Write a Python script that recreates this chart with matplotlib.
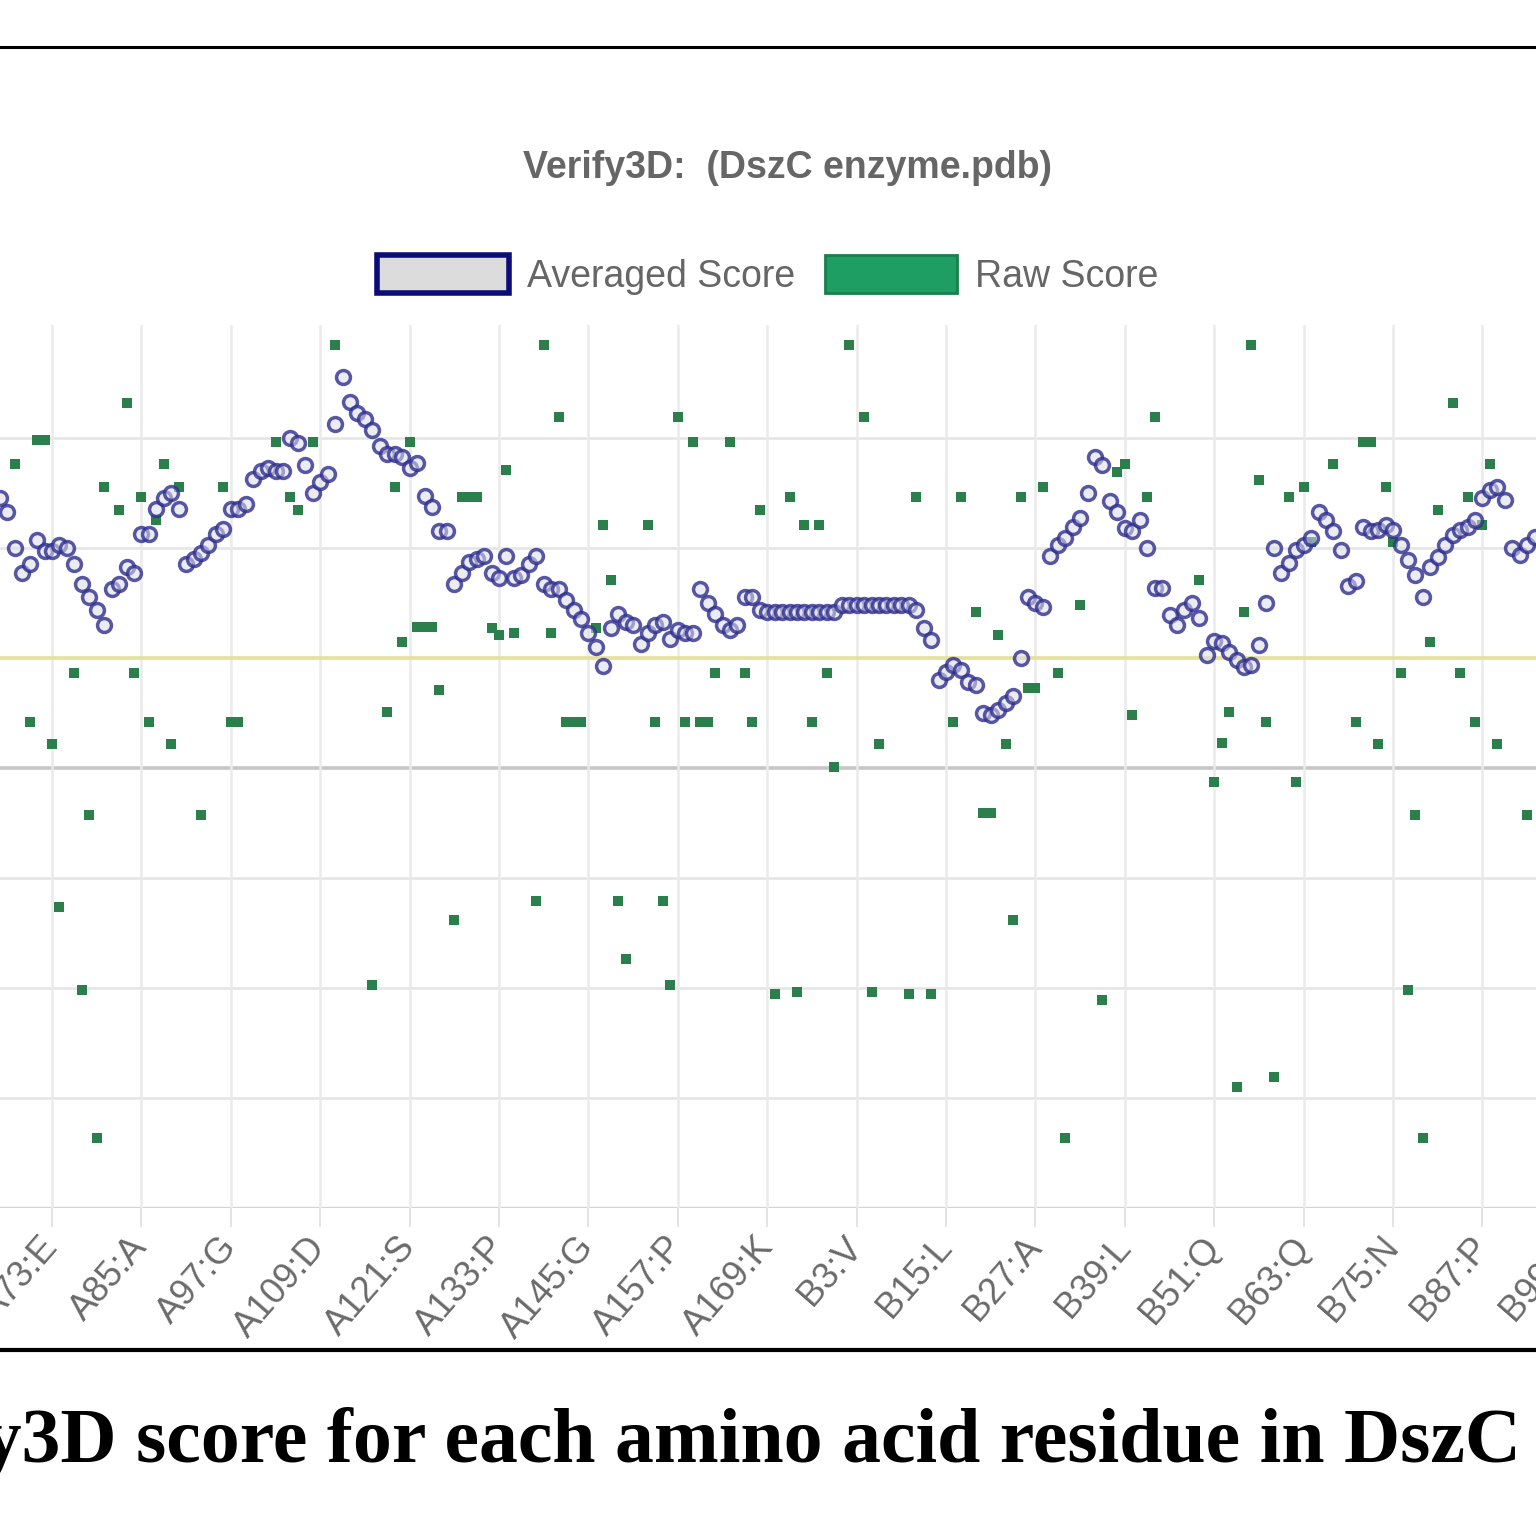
import numpy as np
import matplotlib
matplotlib.use("Agg")
import matplotlib.pyplot as plt
from matplotlib.patches import Patch
from matplotlib.lines import Line2D

plt.rcParams['font.family'] = ['Liberation Sans', 'DejaVu Sans']

n = np.nan

# residue index of the first visible point (A73:E is index 0)
first_pos = -7

# Verify3D averaged score, one value per residue
averaged = [
    0.49, 0.465, 0.40, 0.355, 0.37, 0.415, 0.395,
    0.395, 0.405, 0.40, 0.37, 0.335, 0.31, 0.287, 0.26, 0.325, 0.335,
    0.365, 0.355, 0.425, 0.425, 0.47, 0.49, 0.50, 0.47, 0.37, 0.38,
    0.39, 0.405, 0.425, 0.435, 0.47, 0.47, 0.48, 0.525, 0.54, 0.545,
    0.54, 0.54, 0.60, 0.59, 0.55, 0.50, 0.52, 0.535, 0.625, 0.71,
    0.665, 0.645, 0.635, 0.615, 0.585, 0.57, 0.57, 0.565, 0.545, 0.555,
    0.495, 0.475, 0.43, 0.43, 0.335, 0.355, 0.375, 0.38, 0.385, 0.355,
    0.345, 0.385, 0.345, 0.35, 0.37, 0.385, 0.335, 0.325, 0.325, 0.305,
    0.287, 0.27, 0.245, 0.22, 0.185, 0.255, 0.28, 0.265, 0.26, 0.225,
    0.245, 0.26, 0.265, 0.235, 0.25, 0.245, 0.245, 0.325, 0.30, 0.28,
    0.26, 0.25, 0.26, 0.31, 0.31, 0.287, 0.284, 0.284, 0.284, 0.284,
    0.284, 0.284, 0.284, 0.284, 0.284, 0.284, 0.296, 0.296, 0.296, 0.296,
    0.296, 0.296, 0.296, 0.296, 0.296, 0.296, 0.287, 0.255, 0.233, 0.16,
    0.175, 0.187, 0.178, 0.156, 0.15, 0.10, 0.096, 0.105, 0.118, 0.13,
    0.20, 0.31, 0.30, 0.293, 0.385, 0.405, 0.418, 0.438, 0.455, 0.50,
    0.565, 0.55, 0.485, 0.465, 0.436, 0.43, 0.45, 0.40, 0.327, 0.327,
    0.278, 0.26, 0.287, 0.30, 0.273, 0.205, 0.23, 0.227, 0.21, 0.196,
    0.184, 0.187, 0.224, 0.30, 0.40, 0.355, 0.373, 0.396, 0.405, 0.418,
    0.465, 0.45, 0.43, 0.396, 0.33, 0.34, 0.438, 0.43, 0.433, 0.442,
    0.433, 0.405, 0.378, 0.35, 0.31, 0.365, 0.384, 0.405, 0.424, 0.433,
    0.438, 0.45, 0.49, 0.505, 0.51, 0.487, 0.40, 0.387, 0.405, 0.42,
]

# raw score per residue (nan where hidden behind the averaged markers)
raw = [
    n, n, 0.553, n, 0.084, 0.596, 0.596,
    0.044, -0.253, n, 0.173, -0.404, -0.085, -0.673, 0.511, n, 0.469,
    0.664, 0.173, 0.493, 0.084, 0.451, 0.553, 0.044, 0.511, n, n,
    -0.085, n, n, 0.511, 0.084, 0.084, n, n, n, n,
    0.593, n, 0.493, 0.469, n, 0.593, n, n, 0.769, n,
    n, n, n, -0.395, n, 0.102, 0.511, 0.229, 0.593, 0.256,
    0.256, 0.256, 0.142, n, -0.276, 0.493, 0.493, 0.493, n, 0.255,
    0.242, 0.542, 0.245, n, n, -0.242, 0.769, 0.245, 0.638, 0.084,
    0.084, 0.084, n, 0.255, 0.442, 0.342, -0.242, -0.347, n, n,
    0.442, 0.084, -0.242, -0.395, 0.638, 0.084, 0.593, 0.084, 0.084, 0.173,
    n, 0.593, n, 0.173, 0.084, 0.469, n, -0.411, n, 0.493,
    -0.407, 0.442, 0.084, 0.442, 0.173, 0.002, n, 0.769, n, 0.638,
    -0.407, 0.044, n, n, n, -0.411, 0.493, n, -0.411, n,
    n, 0.084, 0.493, n, 0.284, -0.082, -0.082, 0.242, 0.044, -0.276,
    0.493, 0.145, 0.145, 0.511, n, 0.173, -0.673, n, 0.296, n,
    n, -0.422, n, 0.538, 0.553, 0.096, n, 0.493, 0.638, n,
    n, n, n, n, 0.342, n, -0.025, 0.045, 0.102, -0.58,
    0.284, 0.769, 0.524, 0.084, -0.562, n, 0.493, -0.025, 0.511, 0.411,
    n, n, 0.553, n, n, 0.084, 0.593, 0.593, 0.044, 0.511,
    0.411, 0.173, -0.404, -0.085, -0.673, 0.229, 0.469, n, 0.664, 0.173,
    0.493, 0.084, 0.442, 0.553, 0.044, n, n, n, -0.085, n,
]

tick_pos = [0, 12, 24, 36, 48, 60, 72, 84, 96, 108, 120, 132, 144, 156, 168, 180, 192, 204]
tick_labels = ["A73:E", "A85:A", "A97:G", "A109:D", "A121:S", "A133:P", "A145:G",
               "A157:P", "A169:K", "B3:V", "B15:L", "B27:A", "B39:L", "B51:Q",
               "B63:Q", "B75:N", "B87:P", "B99:E"]

positions = np.arange(first_pos, first_pos + len(averaged))

fig = plt.figure(figsize=(15.36, 15.36), dpi=100)

# plot area is wider than the picture: the screenshot is cropped left and right
ax = fig.add_axes([-0.01465, 0.2135, 1.0574, 0.5749])
ax.set_xlim(-10, 208)
ax.set_ylim(-0.8, 0.805)
for s in ax.spines.values():
    s.set_visible(False)

for lvl in [-0.6, -0.4, -0.2, 0.4, 0.6]:
    ax.axhline(lvl, color='#e4e4e4', lw=1.8, zorder=0)
ax.axhline(-0.8, color='#d3d3d3', lw=2.4, zorder=0)
ax.axhline(0.0, color='#c6c6c6', lw=2.6, zorder=0)
ax.axhline(0.2, color='#e4e19a', lw=2.6, zorder=1)

ax.set_xticks(tick_pos)
ax.set_xticklabels(tick_labels, rotation=49, ha='right', va='center',
                   rotation_mode='anchor')
ax.grid(axis='x', color='#eaeaea', lw=1.8, zorder=0)
ax.set_axisbelow(True)
ax.tick_params(axis='x', length=14, width=1.4, color='#e3e3e3',
               labelcolor='#6a6a6a', labelsize=26, pad=10)
ax.tick_params(axis='y', left=False, labelleft=False)

ax.plot(positions, raw, 's', color='#2a7f4a', ms=6.5, mew=0, zorder=3)
ax.plot(positions, averaged, 'o', ms=10, mew=2.5,
        mfc=(0.86, 0.86, 0.91, 0.55), mec=(0.18, 0.18, 0.56, 0.8), zorder=4)

# title and legend
fig.text(0.5124, 0.8906, 'Verify3D:  (DszC enzyme.pdb)', ha='center', va='center',
         fontsize=27, fontweight='bold', color='#666666')

handles = [Patch(facecolor='#dcdcdc', edgecolor='#0c0c78', linewidth=4, label='Averaged Score'),
           Patch(facecolor='#1f9e63', edgecolor='#17804e', linewidth=2, label='Raw Score')]
fig.legend(handles=handles, loc='center', bbox_to_anchor=(0.5, 0.821), ncol=2,
           frameon=False, fontsize=27, handlelength=3.5, handleheight=1.18,
           handletextpad=0.5, columnspacing=0.8, labelcolor='#666666')

# black rules of the figure box
fig.add_artist(Line2D([0, 1], [0.9694, 0.9694], color='black', lw=2.2,
                      transform=fig.transFigure))
fig.add_artist(Line2D([0, 1], [0.1211, 0.1211], color='black', lw=3,
                      transform=fig.transFigure))

# caption (cropped on the left like the reference)
fig.text(-0.119, 0.0482, 'Verify3D score for each amino acid residue in DszC',
         family=['Liberation Serif', 'DejaVu Serif'], fontweight='bold',
         fontsize=56, ha='left', va='baseline', color='black')

fig.savefig('out.png', dpi=100)
